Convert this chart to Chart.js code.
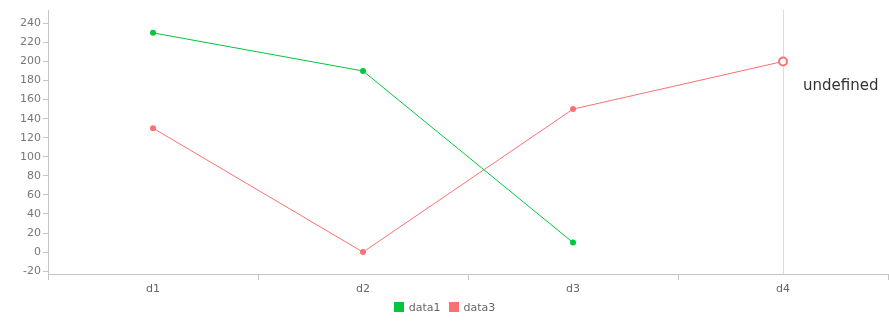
<!DOCTYPE html>
<html>
<head>
<meta charset="utf-8">
<script src="https://cdn.jsdelivr.net/npm/chart.js@4/dist/chart.umd.min.js"></script>
<style>
  html, body { margin: 0; padding: 0; background: #fff; }
  .wrap { position: relative; width: 889px; height: 326px; }
  .legend { position: absolute; left: 0; top: 301px; width: 889px; text-align: center;
            font: 11px "DejaVu Sans", sans-serif; color: #666; }
  .legend span.item { display: inline-block; margin: 0 4px; }
  .legend i { display: inline-block; width: 10px; height: 10px; vertical-align: -1px; margin-right: 5px; }
</style>
</head>
<body>
<div class="wrap">
  <canvas id="c" width="889" height="326"></canvas>
  <div class="legend" id="legend"></div>
</div>
<script>
const CATEGORIES = ['d1', 'd2', 'd3', 'd4'];
const DATA1 = [230, 190, 10, null];
const DATA3 = [130, 0, 150, 200];
const Y_TICKS = [-20, 0, 20, 40, 60, 80, 100, 120, 140, 160, 180, 200, 220, 240];
const FOCUS_INDEX = 3;
const FOCUS_LABEL = 'undefined';

const GREEN = '#00c73c';
const RED = '#fa7171';
const AXIS = '#c4c4c4';
const FONT = '"DejaVu Sans", sans-serif';

const series = [
  { label: 'data1', data: DATA1, color: GREEN },
  { label: 'data3', data: DATA3, color: RED },
];

// legend as plain html
document.getElementById('legend').innerHTML = series
  .map(s => `<span class="item"><i style="background:${s.color}"></i>${s.label}</span>`)
  .join('');

// vertical focus line + label at the focused category
const focusPlugin = {
  id: 'focus',
  beforeDatasetsDraw(chart) {
    const { ctx, chartArea, scales } = chart;
    const x = Math.round(scales.x.getPixelForValue(FOCUS_INDEX)) + 0.5;
    ctx.save();
    ctx.strokeStyle = '#dcdcdc';
    ctx.lineWidth = 1;
    ctx.beginPath();
    ctx.moveTo(x, chartArea.top);
    ctx.lineTo(x, chartArea.bottom);
    ctx.stroke();
    ctx.restore();
  },
  afterDraw(chart) {
    const { ctx, scales } = chart;
    const x = scales.x.getPixelForValue(FOCUS_INDEX);
    const y = scales.y.getPixelForValue(DATA3[FOCUS_INDEX]);
    ctx.save();
    ctx.fillStyle = '#333';
    ctx.font = '15px ' + FONT;
    ctx.textBaseline = 'middle';
    ctx.fillText(FOCUS_LABEL, x + 20, y + 25);
    ctx.restore();
  }
};

new Chart(document.getElementById('c'), {
  type: 'line',
  data: {
    labels: CATEGORIES,
    datasets: series.map(s => ({
      label: s.label,
      data: s.data,
      borderColor: s.color,
      backgroundColor: s.color,
      borderWidth: 1,
      pointRadius: s.data.map((v, i) => (i === FOCUS_INDEX ? 4 : 3)),
      pointBorderWidth: s.data.map((v, i) => (i === FOCUS_INDEX ? 2 : 0)),
      pointBackgroundColor: s.data.map((v, i) => (i === FOCUS_INDEX ? '#fff' : s.color)),
      pointBorderColor: s.color,
      tension: 0,
      spanGaps: false,
    }))
  },
  options: {
    responsive: false,
    animation: false,
    layout: { autoPadding: false, padding: { top: 10, right: 1, left: 0, bottom: 0 } },
    plugins: { legend: { display: false }, tooltip: { enabled: false } },
    scales: {
      x: {
        offset: true,
        grid: { offset: true, drawOnChartArea: false, drawTicks: true, tickLength: 6, color: AXIS },
        border: { color: AXIS },
        ticks: { color: '#666', font: { family: FONT, size: 11 }, padding: 3 },
        afterFit(scale) { scale.height = 52; scale.paddingLeft = 0; scale.paddingRight = 0; }
      },
      y: {
        min: -23,
        max: 254,
        grid: { drawOnChartArea: false, drawTicks: true, tickLength: 5, color: AXIS },
        border: { color: AXIS },
        ticks: { color: '#777', font: { family: FONT, size: 11 }, padding: 2 },
        afterBuildTicks(scale) { scale.ticks = Y_TICKS.map(v => ({ value: v })); },
        afterFit(scale) { scale.width = 48; scale.paddingTop = 0; scale.paddingBottom = 0; }
      }
    }
  },
  plugins: [focusPlugin]
});
</script>
</body>
</html>
